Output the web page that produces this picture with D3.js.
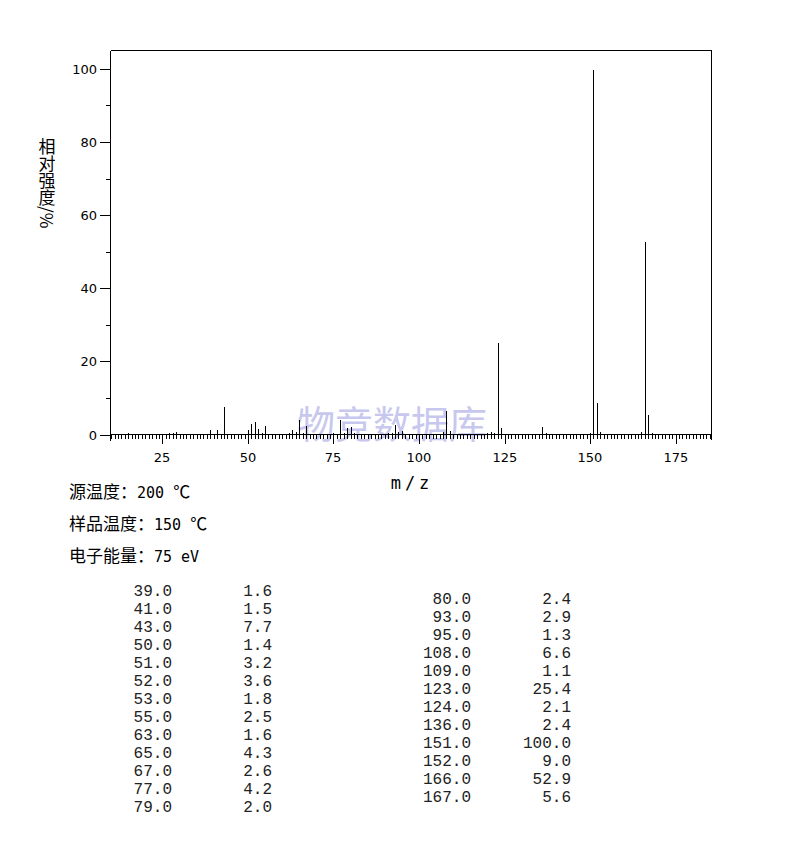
<!DOCTYPE html>
<html><head><meta charset="utf-8">
<script src="https://cdn.jsdelivr.net/npm/d3@7"></script>
<style>body{margin:0;background:#fff}svg{display:block}</style>
</head><body>
<script>
// Peaks (m/z, relative intensity %)
const mz = [14,15,26,27,28,29,31,38,39,40,41,42,43,44,49,50,51,52,53,54,55,56,61,62,63,64,65,66,67,68,69,74,75,76,77,78,79,80,81,91,92,93,94,95,96,105,106,107,108,109,110,119,120,121,122,123,124,125,135,136,137,150,151,152,153,165,166,167,168,181];
const intensity = [0.5,0.8,0.3,0.8,0.6,0.9,0.4,0.5,1.6,0.4,1.5,0.5,7.7,0.3,0.4,1.4,3.2,3.6,1.8,0.6,2.5,0.3,0.4,0.8,1.6,0.9,4.3,0.8,2.6,0.3,0.5,0.4,0.6,0.5,4.2,0.8,2.0,2.4,0.7,0.8,0.6,2.9,0.9,1.3,0.3,0.4,0.5,0.9,6.6,1.1,0.5,0.5,0.7,0.9,0.8,25.4,2.1,0.3,0.5,2.4,0.8,0.8,100,9.0,1.0,0.9,52.9,5.6,0.7,0.4];
const xTicks = [25,50,75,100,125,150,175];
const yTicks = [0,20,40,60,80,100];
const infoLabels = ["源温度：","样品温度：","电子能量："];
const infoValues = ["200 ℃","150 ℃","75 eV"];
const tableMz1 = ["39.0","41.0","43.0","50.0","51.0","52.0","53.0","55.0","63.0","65.0","67.0","77.0","79.0"];
const tableI1 = ["1.6","1.5","7.7","1.4","3.2","3.6","1.8","2.5","1.6","4.3","2.6","4.2","2.0"];
const tableMz2 = ["80.0","93.0","95.0","108.0","109.0","123.0","124.0","136.0","151.0","152.0","166.0","167.0"];
const tableI2 = ["2.4","2.9","1.3","6.6","1.1","25.4","2.1","2.4","100.0","9.0","52.9","5.6"];

(function(){
const W = 794, H = 850;
const svg = d3.select("body").append("svg").attr("width", W).attr("height", H);
const pL = 110.5, pR = 711.5, pT = 50.5, base = 434.5;
const x = d3.scaleLinear().domain([10, 186]).range([111.1, 713.2]);
const y = d3.scaleLinear().domain([0, 105]).range([base, pT]);

// watermark
svg.append("text").attr("x", 392).attr("y", 438).attr("text-anchor", "middle")
  .attr("font-family", "Noto Sans CJK SC").attr("font-size", 38)
  .attr("fill", "#c8c8ee").text("物竞数据库");

const g = svg.append("g").attr("shape-rendering", "crispEdges").attr("stroke", "#000").attr("stroke-width", 1);
// frame
g.append("line").attr("x1", pL).attr("x2", pR).attr("y1", pT).attr("y2", pT);
g.append("line").attr("x1", pR).attr("x2", pR).attr("y1", pT).attr("y2", 440);
g.append("line").attr("x1", pL).attr("x2", pL).attr("y1", pT).attr("y2", 441);
g.append("line").attr("x1", pL).attr("x2", pR).attr("y1", base).attr("y2", base);

// y ticks
const yAll = d3.range(0, 101, 10);
g.selectAll(".yt").data(yAll).join("line")
  .attr("x1", d => d % 20 === 0 ? 100 : 106).attr("x2", pL)
  .attr("y1", d => Math.round(y(d)) + 0.5).attr("y2", d => Math.round(y(d)) + 0.5);
svg.selectAll(".yl").data(yTicks).join("text")
  .attr("x", 97).attr("y", d => Math.round(y(d)) + 5)
  .attr("text-anchor", "end").attr("font-family", "DejaVu Sans").attr("font-size", 13)
  .attr("fill", "#000").text(d => d);

// x ticks
const xAll = d3.range(10, 186).filter(d => x(d) > 111 && x(d) < 711);
g.selectAll(".xt").data(xAll).join("line")
  .attr("x1", d => Math.round(x(d)) + 0.5).attr("x2", d => Math.round(x(d)) + 0.5)
  .attr("y1", base).attr("y2", d => d % 25 === 0 ? base + 9 : base + 4);
svg.selectAll(".xl").data(xTicks).join("text")
  .attr("x", d => Math.round(x(d))).attr("y", 462)
  .attr("text-anchor", "middle").attr("font-family", "DejaVu Sans").attr("font-size", 13)
  .attr("fill", "#000").text(d => d);

// peaks
const peaks = mz.map((m, i) => ({m, v: intensity[i]}));
g.selectAll(".pk").data(peaks).join("line")
  .attr("x1", d => Math.round(x(d.m)) + 0.5).attr("x2", d => Math.round(x(d.m)) + 0.5)
  .attr("y1", base).attr("y2", d => Math.round(y(d.v)) + 0.5);

// axis titles
svg.append("text").attr("x", 412).attr("y", 489).attr("text-anchor", "middle")
  .attr("font-family", "DejaVu Sans Mono").attr("font-size", 17).attr("letter-spacing", 4)
  .attr("fill", "#000").text("m/z");
svg.append("text").attr("x", 47).attr("y", 138)
  .attr("writing-mode", "vertical-rl").attr("font-family", "Noto Sans CJK SC").attr("font-size", 17)
  .attr("fill", "#000").text("相对强度/%");

// info lines
infoLabels.forEach((lab, i) => {
  const t = svg.append("text").attr("x", 69).attr("y", 498 + i * 32)
    .attr("font-family", "Noto Sans CJK SC").attr("font-size", 17).attr("fill", "#000");
  t.append("tspan").text(lab);
  t.append("tspan").attr("font-family", "DejaVu Sans Mono").attr("font-size", 15).text(infoValues[i].replace(/ ℃$/, " "));
  if (/℃$/.test(infoValues[i])) t.append("tspan").attr("font-family", "Noto Sans CJK SC").text("℃");
});

// tables
function table(a, b, x1, x2, y0) {
  a.forEach((t, i) => {
    svg.append("text").attr("x", x1).attr("y", y0 + i * 18).attr("text-anchor", "end")
      .attr("font-family", "Liberation Mono").attr("font-size", 16).attr("fill", "#222").text(t);
    svg.append("text").attr("x", x2).attr("y", y0 + i * 18).attr("text-anchor", "end")
      .attr("font-family", "Liberation Mono").attr("font-size", 16).attr("fill", "#222").text(b[i]);
  });
}
table(tableMz1, tableI1, 172, 272, 596);
table(tableMz2, tableI2, 471, 571, 604);
})();
</script>
</body></html>
